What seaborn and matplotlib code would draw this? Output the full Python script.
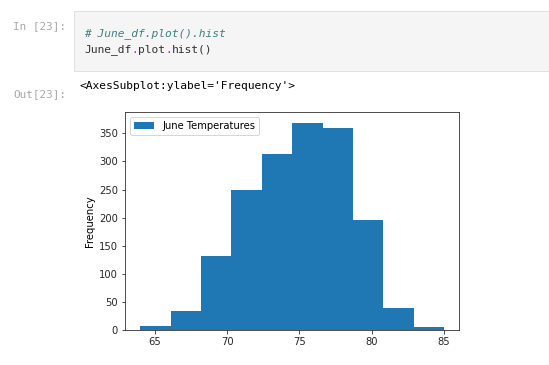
import matplotlib
matplotlib.use("Agg")
import matplotlib.pyplot as plt
from matplotlib.patches import Rectangle
import seaborn as sns
import numpy as np

# Data (10 bins, 64..85)
bin_edges = [64.0, 66.1, 68.2, 70.3, 72.4, 74.5, 76.6, 78.7, 80.8, 82.9, 85.0]
counts = [7, 34, 132, 249, 313, 369, 360, 195, 40, 5]
series_label = "June Temperatures"
x_ticks = [65, 70, 75, 80, 85]

centers = [(a + b) / 2 for a, b in zip(bin_edges[:-1], bin_edges[1:])]

W, H, DPI = 549, 365, 72
fig = plt.figure(figsize=(W / DPI, H / DPI), dpi=DPI)
fig.patch.set_facecolor("white")

def fx(px):
    return px / W

def fy(py):
    return 1 - py / H

mono = "DejaVu Sans Mono"
# Notebook chrome
fig.patches.append(Rectangle((fx(73.5), fy(71)), (549 - 73.5) / W, 60 / H,
                             transform=fig.transFigure, facecolor="#f5f5f5",
                             edgecolor="#e0e0e0", linewidth=1))
fig.text(fx(13), fy(26), "In [23]:", family=mono, fontsize=11, color="#a8a8a8", va="center")
fig.text(fx(84), fy(34), "# June_df.plot().hist", family=mono, fontsize=11.2,
         color="#408080", style="italic", va="center")
# code line with coloured dots
code_parts = [("June_df", "#333333"), (".", "#aa22ff"), ("plot", "#333333"),
              (".", "#aa22ff"), ("hist()", "#333333")]
cx = 84
cw = 6.74
for s, c in code_parts:
    fig.text(fx(cx), fy(50), s, family=mono, fontsize=11.2, color=c, va="center")
    cx += cw * len(s)
fig.text(fx(13), fy(94), "Out[23]:", family=mono, fontsize=11, color="#a8a8a8", va="center")
fig.text(fx(79), fy(86), "<AxesSubplot:ylabel='Frequency'>", family=mono, fontsize=11.2,
         color="#000000", va="center")

# Plot axes
ax = fig.add_axes([fx(125), fy(330), (459.3 - 125) / W, (330 - 112.3) / H])
sns.histplot(x=centers, weights=counts, bins=bin_edges, ax=ax, color="#1f77b4",
             alpha=1, linewidth=0, edgecolor="none", element="bars")
ax.set_xlim(62.95, 86.05)
ax.set_ylim(0, 387.5)
ax.set_xticks(x_ticks)
ax.set_yticks(range(0, 351, 50))
ax.tick_params(labelsize=10, colors="#262626")
ax.set_ylabel("Frequency", fontsize=10)
ax.set_xlabel("")
for sp in ax.spines.values():
    sp.set_color("#262626")
ax.legend(handles=[ax.patches[0]], labels=[series_label], loc="upper left", fontsize=10)

fig.savefig("out.png", dpi=DPI)
